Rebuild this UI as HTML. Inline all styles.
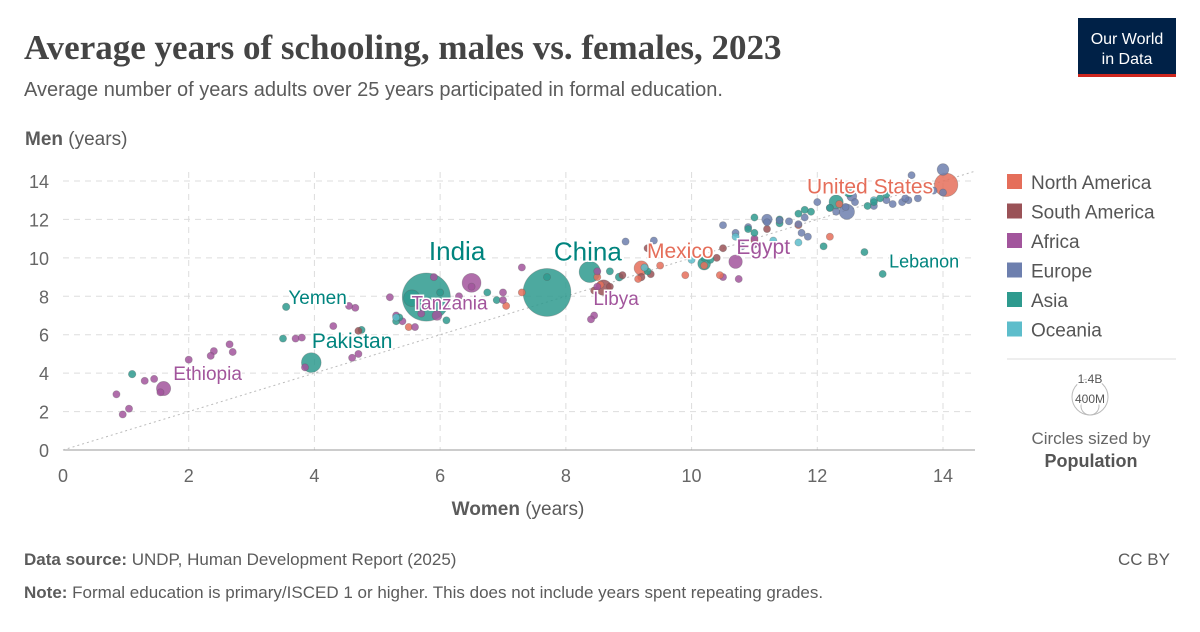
<!DOCTYPE html>
<html><head><meta charset="utf-8"><style>
body{margin:0;background:#fff;width:1200px;height:627px;overflow:hidden;font-family:"Liberation Sans",sans-serif;}
svg text{font-family:"Liberation Sans",sans-serif;}
</style></head><body>
<svg id="chart" width="1200" height="627" xmlns="http://www.w3.org/2000/svg">
<text x="24" y="59" font-family="Liberation Serif" font-size="35" fill="#444" font-weight="bold" style="font-family:'Liberation Serif',serif">Average years of schooling, males vs. females, 2023</text>
<text x="24" y="96" font-size="20" fill="#5b5b5b">Average number of years adults over 25 years participated in formal education.</text>
<g><rect x="1078" y="18" width="98" height="59" fill="#002147"/><rect x="1078" y="74" width="98" height="3" fill="#ce261e"/>
<text x="1127" y="44" font-size="16" fill="#fff" text-anchor="middle">Our World</text><text x="1127" y="64" font-size="16" fill="#fff" text-anchor="middle">in Data</text></g>
<text x="25" y="145" font-size="19" fill="#5b5b5b"><tspan font-weight="bold">Men</tspan> (years)</text>
<text x="518" y="515" font-size="19" fill="#5b5b5b" text-anchor="middle"><tspan font-weight="bold">Women</tspan> (years)</text>
<g id="grid"></g><g id="points"></g><g id="labels"></g><g id="legend"></g>
<text x="24" y="565" font-size="17" fill="#5b5b5b"><tspan font-weight="bold">Data source:</tspan> UNDP, Human Development Report (2025)</text>
<text x="1170" y="565" font-size="17" fill="#5b5b5b" text-anchor="end">CC BY</text>
<text x="24" y="598" font-size="17" fill="#5b5b5b"><tspan font-weight="bold">Note:</tspan> Formal education is primary/ISCED 1 or higher. This does not include years spent repeating grades.</text>
</svg>
<script>
const xTicks=[0,2,4,6,8,10,12,14];
const yTicks=[0,2,4,6,8,10,12,14];
const regions=["North America","South America","Africa","Europe","Asia","Oceania"];
const regionColors=["#E56E5A","#9A5257","#A2559C","#6D7FAE","#2E9A8E","#5DBDCB"];
// [women, men, population (millions)]
const africa=[[0.85,2.9,20],[0.95,1.85,15],[1.05,2.15,12],[1.3,3.6,10],[1.45,3.7,10],[1.6,3.2,126],[1.55,3.0,8],[2.0,4.7,15],[2.35,4.9,10],[2.4,5.15,12],[2.65,5.5,10],[2.7,5.1,12],[3.7,5.8,20],[3.8,5.85,10],[3.85,4.3,28],[4.3,6.45,8],[4.55,7.5,12],[4.65,7.4,30],[5.2,7.95,18],[5.3,7.0,10],[5.4,6.7,25],[5.6,6.4,10],[5.7,7.1,15],[6.5,8.7,220],[6.5,8.5,10],[5.9,9.0,20],[6.3,8.0,12],[7.3,9.5,12],[8.45,7.0,15],[8.4,6.8,10],[8.5,8.5,10],[8.5,9.3,10],[10.7,9.8,112],[10.5,9.0,15],[11.0,10.7,10],[11.0,11.0,10],[7.0,8.2,8],[7.0,7.8,8],[4.7,5.0,20],[4.6,4.8,15],[5.95,7.0,60],[10.75,8.9,10]];
const asia=[[1.1,3.95,35],[3.5,5.8,12],[3.55,7.45,34],[3.95,4.55,240],[4.75,6.25,10],[5.3,6.7,10],[5.35,6.9,10],[5.55,7.9,170],[5.78,7.96,1430],[6.1,6.75,15],[6.0,8.2,10],[7.7,8.2,1410],[8.38,9.27,278],[8.7,9.3,20],[8.85,9.0,40],[9.3,9.3,10],[10.2,9.7,100],[10.2,10.0,15],[10.3,9.9,10],[11.0,12.1,10],[11.4,12.0,15],[11.7,12.3,10],[11.9,12.4,20],[11.8,12.5,10],[12.3,12.9,124],[12.8,12.7,10],[12.9,12.9,10],[13.1,13.3,10],[12.1,10.6,10],[12.75,10.3,10],[13.04,9.16,5],[10.9,11.5,10],[11.0,11.3,10],[11.4,11.8,20],[12.2,12.6,10],[12.5,13.4,52],[13.0,13.1,10],[7.7,9.0,10],[6.9,7.8,10],[6.75,8.2,10]];
const europe=[[9.4,10.9,10],[10.5,11.7,10],[10.7,11.3,10],[10.9,11.6,10],[11.2,11.85,10],[11.4,11.95,10],[11.55,11.9,10],[11.7,11.75,10],[11.8,12.1,20],[11.75,11.3,10],[11.85,11.1,10],[12.2,12.6,10],[12.3,12.4,10],[12.47,12.4,145],[12.6,12.9,10],[12.9,12.7,10],[13.1,13.0,10],[13.2,12.8,10],[13.35,12.9,10],[13.45,13.0,10],[13.6,13.1,10],[13.5,14.3,10],[14.0,14.6,84],[14.0,13.4,10],[13.85,13.5,10],[13.4,13.1,10],[12.55,13.2,60],[12.45,12.65,10],[10.8,10.6,10],[11.2,12.0,68],[12.0,12.9,10],[8.95,10.85,10]];
const northAmerica=[[14.05,13.8,340],[9.2,9.47,128],[8.55,8.6,10],[8.5,9.0,10],[9.15,8.9,10],[9.9,9.1,10],[10.2,9.6,10],[10.45,9.1,10],[11.0,10.9,10],[12.2,11.1,10],[12.35,12.8,10],[11.7,11.7,10],[9.5,9.6,10],[5.5,6.4,10],[7.05,7.5,10],[7.3,8.2,10]];
const southAmerica=[[4.7,6.2,8],[8.45,8.3,20],[8.6,8.45,150],[8.7,8.5,10],[8.9,9.1,10],[9.35,9.15,10],[9.2,9.0,35],[10.4,10.0,10],[10.5,10.5,10],[11.2,11.5,10],[9.3,10.5,10]];
const oceania=[[10.0,9.9,10],[10.7,11.1,10],[11.3,10.9,10],[11.7,10.8,10],[12.9,13.0,26],[9.25,9.5,10],[5.3,6.9,10]];
const labelNames=["India","China","United States","Mexico","Egypt","Lebanon","Yemen","Tanzania","Pakistan","Ethiopia","Libya"];
const labelPos=[[6.27,9.9],[8.35,9.85],[12.84,13.35],[9.82,10.0],[11.14,10.2],[13.7,9.5],[4.05,7.6],[6.15,7.3],[4.6,5.3],[2.3,3.65],[8.8,7.55]];
const labelRegion=[4,4,0,0,2,4,4,2,4,2,2];
const labelSize=[26,26,21,21,21,18,19,19,21,19,19];

const NS="http://www.w3.org/2000/svg";
const X0=63,X1=943,Y0=450,Y1=181;
const xs=v=>X0+(v/14)*(X1-X0);
const ys=v=>Y0-(v/14)*(Y0-Y1);
const rs=p=>Math.max(3.6,24*Math.sqrt(p/1420));
function mk(tag,attrs,parent){const e=document.createElementNS(NS,tag);for(const k in attrs)e.setAttribute(k,attrs[k]);parent.appendChild(e);return e;}
const grid=document.getElementById('grid');
xTicks.forEach(t=>{
  if(t>0){const l=mk('line',{x1:xs(t),x2:xs(t),y1:172,y2:Y0,stroke:'#ddd','stroke-dasharray':'6,5'},grid);
  
  }
  const tx=mk('text',{x:xs(t),y:482,'font-size':18,fill:'#666','text-anchor':'middle'},grid);tx.textContent=t;
  
  
});
yTicks.forEach(t=>{
  if(t>0){const l=mk('line',{x1:X0,x2:975,y1:ys(t),y2:ys(t),stroke:'#ddd','stroke-dasharray':'6,5'},grid);
  
  }
  const tx=mk('text',{x:49,y:ys(t)+7,'font-size':18,fill:'#666','text-anchor':'end'},grid);tx.textContent=t;
  
  
});
const ax=mk('line',{x1:X0,x2:975,y1:Y0,y2:Y0,stroke:'#999'},grid);


const eq=mk('line',{x1:xs(0),y1:ys(0),x2:975,y2:ys(14*(975-X0)/(X1-X0)),stroke:'#bbb','stroke-dasharray':'2,3'},grid);


const all=[];
[[northAmerica,0],[southAmerica,1],[africa,2],[europe,3],[asia,4],[oceania,5]].forEach(([arr,ri])=>arr.forEach(d=>all.push([d[0],d[1],d[2],ri])));
all.sort((a,b)=>b[2]-a[2]);
const pg=document.getElementById('points');
all.forEach(d=>{
  const c=mk('circle',{cx:xs(d[0]),cy:ys(d[1]),r:rs(d[2]),fill:regionColors[d[3]],'fill-opacity':0.85,stroke:'#555','stroke-opacity':0.35,'stroke-width':0.7},pg);
  
  
});
const lg=document.getElementById('labels');
labelNames.forEach((n,i)=>{
  const t=mk('text',{x:xs(labelPos[i][0]),y:ys(labelPos[i][1]),'font-size':labelSize[i],fill:regionColors[labelRegion[i]]==='#2E9A8E'?'#00847E':regionColors[labelRegion[i]],'text-anchor':'middle',stroke:'#fff','stroke-width':3,'paint-order':'stroke'},lg);
  t.textContent=n;
  
  
});
const leg=document.getElementById('legend');
regions.forEach((r,i)=>{
  const y=182+i*29.5;
  const s=mk('rect',{x:1007,y:y-8,width:15,height:15,fill:regionColors[i]},leg);
  
  
  const t=mk('text',{x:1031,y:y+7,'font-size':19,fill:'#555'},leg);t.textContent=r;
  
  
});
const sep=mk('line',{x1:1007,x2:1176,y1:359,y2:359,stroke:'#ddd'},leg);


const c1=mk('circle',{cx:1090,cy:397,r:18,fill:'none',stroke:'#bbb'},leg);


const c2=mk('circle',{cx:1090,cy:406,r:9,fill:'none',stroke:'#bbb'},leg);


[["1.4B",383],["400M",403]].forEach(([s,y])=>{const t=mk('text',{x:1090,y:y,'font-size':12,fill:'#555','text-anchor':'middle',stroke:'#fff','stroke-width':3,'paint-order':'stroke'},leg);t.textContent=s;
  
  });
const st1=mk('text',{x:1091,y:444,'font-size':17,fill:'#666','text-anchor':'middle'},leg);st1.textContent='Circles sized by';


const st2=mk('text',{x:1091,y:467,'font-size':18,fill:'#555','font-weight':'bold','text-anchor':'middle'},leg);st2.textContent='Population';


</script>
</body></html>
